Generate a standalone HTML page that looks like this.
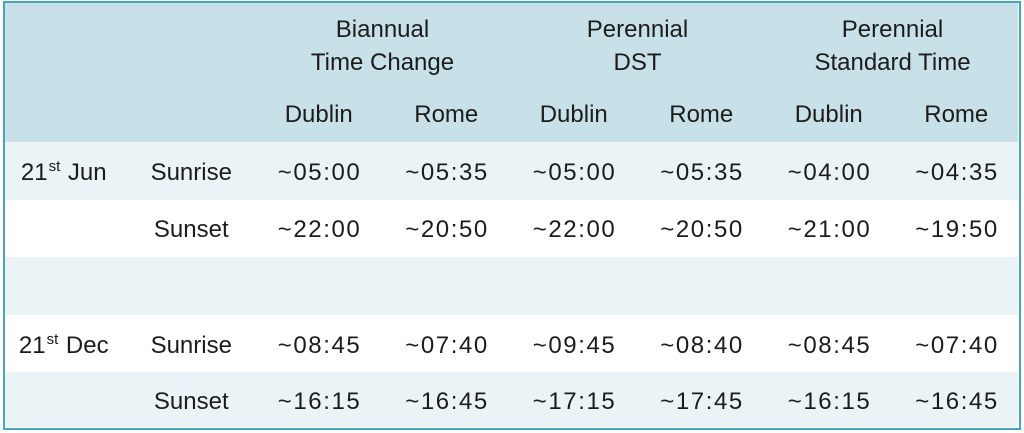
<!DOCTYPE html>
<html><head><meta charset="utf-8"><style>
html,body{margin:0;padding:0;background:#fff;}
body{width:1024px;height:433px;position:relative;overflow:hidden;font-family:"Liberation Sans",sans-serif;color:#1c1c1c;}
.box{position:absolute;left:3px;top:1px;width:1014px;height:425px;border:2px solid #4aa5bc;background:#fff;}
.bg{position:absolute;left:5px;width:1013px;}
.t{position:absolute;width:127.5px;text-align:center;font-size:24px;line-height:30px;height:30px;white-space:nowrap;}
.g{position:absolute;width:255px;text-align:center;font-size:24px;line-height:33px;white-space:nowrap;}
.n{letter-spacing:1.6px;text-indent:1.6px;}
sup{font-size:15px;vertical-align:0;position:relative;top:-9px;margin-left:1px;margin-right:1px;}
</style></head><body>
<div class="box"></div>
<div class="bg" style="top:3px;height:139px;background:#c8e0e7"></div>
<div class="bg" style="top:142px;height:58px;background:#eaf3f5"></div>
<div class="bg" style="top:257px;height:58px;background:#eaf3f5"></div>
<div class="bg" style="top:372px;height:55px;background:#eaf3f5"></div>

<!-- group headers -->
<div class="g" style="left:255px;top:13px">Biannual<br>Time Change</div>
<div class="g" style="left:510px;top:13px">Perennial<br>DST</div>
<div class="g" style="left:765px;top:13px">Perennial<br>Standard Time</div>

<!-- sub headers -->
<div class="t" style="left:255px;top:100px">Dublin</div>
<div class="t" style="left:382.5px;top:100px">Rome</div>
<div class="t" style="left:510px;top:100px">Dublin</div>
<div class="t" style="left:637.5px;top:100px">Rome</div>
<div class="t" style="left:765px;top:100px">Dublin</div>
<div class="t" style="left:892.5px;top:100px">Rome</div>

<!-- row 1 -->
<div class="t" style="left:0;top:158px">21<sup>st</sup> Jun</div>
<div class="t" style="left:127.5px;top:158px">Sunrise</div>
<div class="t n" style="left:255px;top:158px">~05:00</div>
<div class="t n" style="left:382.5px;top:158px">~05:35</div>
<div class="t n" style="left:510px;top:158px">~05:00</div>
<div class="t n" style="left:637.5px;top:158px">~05:35</div>
<div class="t n" style="left:765px;top:158px">~04:00</div>
<div class="t n" style="left:892.5px;top:158px">~04:35</div>

<!-- row 2 -->
<div class="t" style="left:127.5px;top:215px">Sunset</div>
<div class="t n" style="left:255px;top:215px">~22:00</div>
<div class="t n" style="left:382.5px;top:215px">~20:50</div>
<div class="t n" style="left:510px;top:215px">~22:00</div>
<div class="t n" style="left:637.5px;top:215px">~20:50</div>
<div class="t n" style="left:765px;top:215px">~21:00</div>
<div class="t n" style="left:892.5px;top:215px">~19:50</div>

<!-- row 4 -->
<div class="t" style="left:0;top:331px">21<sup>st</sup> Dec</div>
<div class="t" style="left:127.5px;top:331px">Sunrise</div>
<div class="t n" style="left:255px;top:331px">~08:45</div>
<div class="t n" style="left:382.5px;top:331px">~07:40</div>
<div class="t n" style="left:510px;top:331px">~09:45</div>
<div class="t n" style="left:637.5px;top:331px">~08:40</div>
<div class="t n" style="left:765px;top:331px">~08:45</div>
<div class="t n" style="left:892.5px;top:331px">~07:40</div>

<!-- row 5 -->
<div class="t" style="left:127.5px;top:387px">Sunset</div>
<div class="t n" style="left:255px;top:387px">~16:15</div>
<div class="t n" style="left:382.5px;top:387px">~16:45</div>
<div class="t n" style="left:510px;top:387px">~17:15</div>
<div class="t n" style="left:637.5px;top:387px">~17:45</div>
<div class="t n" style="left:765px;top:387px">~16:15</div>
<div class="t n" style="left:892.5px;top:387px">~16:45</div>
</body></html>
